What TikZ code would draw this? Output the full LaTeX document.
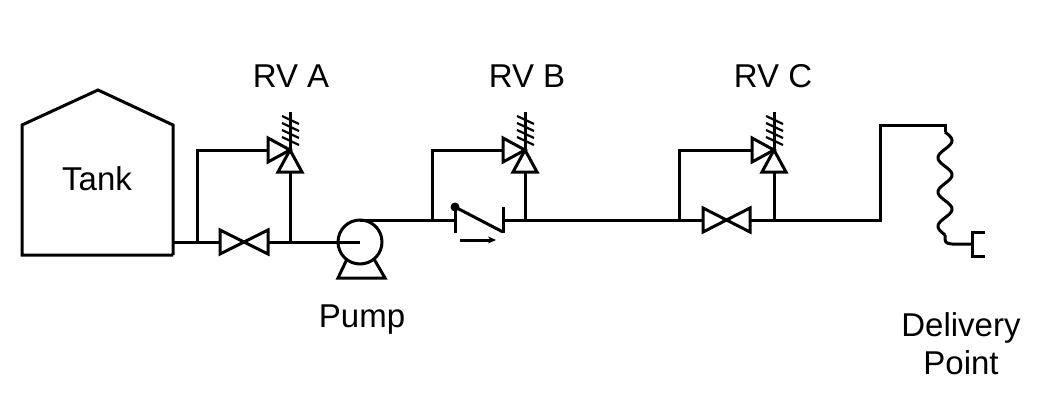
\documentclass[tikz,border=0pt]{standalone}
\usepackage{fontspec}
\setmainfont{Liberation Sans}
\usetikzlibrary{arrows.meta}
\newcommand{\myBowtie}[3]{% x1 x2 y
  \draw (#1,#3-12) -- (#2,#3+12) -- (#2,#3-12) -- (#1,#3+12) -- cycle;}
\newcommand{\myRelief}[2]{% x y(apex)
  \draw (#1,#2) -- (#1-12,#2+22) -- (#1+12,#2+22) -- cycle;
  \draw (#1,#2) -- (#1-22,#2-12) -- (#1-22,#2+12) -- cycle;
  \draw (#1,#2) -- (#1,#2-38);
  \foreach \h in {-34,-27,-20,-13} \draw[line width=2.2pt] (#1-8,#2+\h) -- (#1+9,#2+\h+8);}
\begin{document}
\begin{tikzpicture}[x=1pt,y=-1pt,line width=3pt,line join=miter,
  lbl/.style={font=\fontsize{33}{38}\selectfont,align=center,inner sep=0}]
\useasboundingbox (0,0) rectangle (1064,405);
% tank
\draw (173,255) -- (22,255) -- (22,125) -- (98,90) -- (173,125) -- (173,255);
\node[lbl] (tank) at (97,179) {Tank};
% line A
\coordinate (t1) at (173,242);
\coordinate (pc) at (360,242);
\draw (t1) -- (220,242); \draw (268,242) -- (pc);
\myBowtie{220}{268}{242}
\draw (197,242) -- (197,150) -- (268,150);
\myRelief{290}{150}
\draw (290,172) -- (290,242);
\node[lbl] (rva) at (291,76) {RV A};
% pump
\draw (pc) circle (22);
\draw (347,259) -- (338,278) -- (385,278) -- (374,259);
\draw (360,220) -- (455,220);
\node[lbl] (pump) at (362,320) {Pump};
% check valve B
\draw (455,207) -- (455,233);
\fill (455,207) circle (4.5);
\draw (455,207) -- (503,232);
\draw (503,207) -- (503,233);
\draw[-{Stealth[length=8pt,width=7pt]}] (460,240) -- (496,240);
\draw (432,220) -- (432,150) -- (502,150);
\myRelief{525}{150}
\draw (525,172) -- (525,220);
\node[lbl] (rvb) at (527,76) {RV B};
% line C
\draw (503,220) -- (703,220);
\myBowtie{703}{750}{220}
\draw (679,220) -- (679,150) -- (751,150);
\myRelief{774}{150}
\draw (774,172) -- (774,220);
\draw (750,220) -- (880,220) -- (880,125) -- (945,125) -- (945,132);
\node[lbl] (rvc) at (773,76) {RV C};
% hose
\draw plot[domain=0:103,samples=120,smooth] ({945+7*sin(\x*10.5)},{132+\x});
\draw (945,235) .. controls (945,243) .. (952,244) -- (972,244);
\draw (985,232) -- (972,232) -- (972,256) -- (985,256);
\node[lbl] (dp) at (961,344) {Delivery\\Point};
\end{tikzpicture}
\end{document}
